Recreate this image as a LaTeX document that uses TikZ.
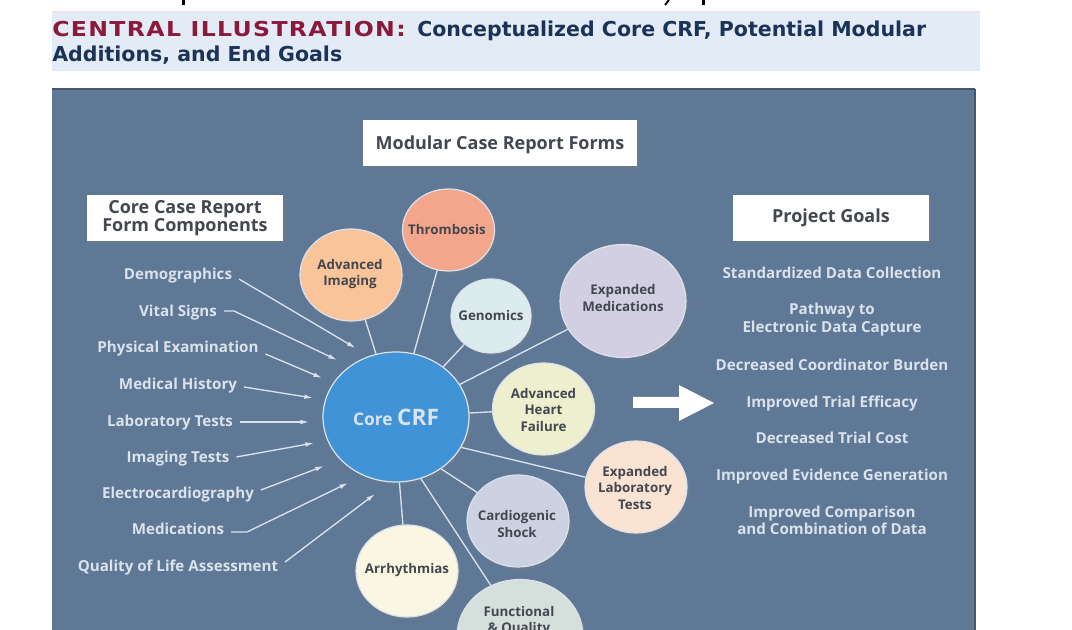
\documentclass[tikz,border=0pt]{standalone}
\usepackage{fontspec}
\setmainfont{Open Sans}
\newfontfamily\titlefont{DejaVu Sans}
\newfontfamily\titlewide[FakeStretch=1.15,LetterSpace=6.5]{DejaVu Sans}
\usetikzlibrary{arrows.meta,shadows,calc,shapes.geometric}
\definecolor{panel}{HTML}{5F7896}
\definecolor{band}{HTML}{E3EBF6}
\definecolor{bandtop}{HTML}{F8DDE0}
\definecolor{paneltop}{HTML}{46566A}
\definecolor{soft}{HTML}{DAE2EB}
\definecolor{inktext}{HTML}{43474F}
\definecolor{titlered}{HTML}{8B1A3A}
\definecolor{titlenavy}{HTML}{1B3358}
\definecolor{coreblue}{HTML}{3F93D6}
\definecolor{cImg}{HTML}{F9C49A}
\definecolor{cThr}{HTML}{F4A68C}
\definecolor{cGen}{HTML}{DCEBEE}
\definecolor{cMed}{HTML}{D2CFE2}
\definecolor{cAhf}{HTML}{EDEFCF}
\definecolor{cLab}{HTML}{FBE3D3}
\definecolor{cCar}{HTML}{CCD2E2}
\definecolor{cArr}{HTML}{FBF6E2}
\definecolor{cFun}{HTML}{D5E0DC}
\tikzset{
  x=0.75pt,y=-0.75pt,
  softshadow/.style={drop shadow={opacity=.28,shadow xshift=2pt,shadow yshift=-2pt}},
  bubble/.style n args={3}{ellipse,draw=soft,line width=.9pt,fill=#3,inner sep=0pt,
    minimum width=#1*.75pt,minimum height=#2*.75pt,softshadow},
  bubbletext/.style={font=\fontsize{10}{12.2}\selectfont\bfseries,text=inktext,align=center,inner sep=0pt},
  headbox/.style n args={2}{rectangle,fill=white,inner sep=0pt,minimum width=#1*.75pt,minimum height=#2*.75pt,softshadow,
    font=\fontsize{13.5}{14}\selectfont\bfseries,text=inktext,align=center},
  itemtext/.style={font=\fontsize{11.35}{14}\selectfont\bfseries,text=soft,align=center,inner xsep=5pt,inner ysep=0pt},
  spoke/.style={draw=soft,line width=1pt},
  feed/.style={draw=soft,line width=1pt,-{Latex[length=6.5pt,width=3.5pt]}},
  titletext/.style={anchor=base west,inner sep=0pt,font=\titlefont\fontsize{15.4}{16}\selectfont\bfseries},
}
\begin{document}
\begin{tikzpicture}
\useasboundingbox (0,0) rectangle (1072,630);
\clip (0,0) rectangle (1072,630);
% title band
\fill[band] (52,11) rectangle (980,71);
\fill[bandtop] (52,11) rectangle (980,12.5);
\node[titletext,text=titlered] (ttlA) at (52,36.5) {\titlewide CENTRAL ILLUSTRATION:};
\node[titletext,text=titlenavy] (ttlB) at (417,36.5) {Conceptualized Core CRF, Potential Modular};
\node[titletext,text=titlenavy] (ttlC) at (52,61.5) {Additions, and End Goals};
% cut-off marks of the text above
\fill[black] (182,0) rectangle (184.5,5);
\fill[black] (702,0) rectangle (704.5,5);
\draw[black,line width=1.4pt] (669,0) -- (665,5);
% panel
\fill[panel] (52,89) rectangle (975,630);
\fill[paneltop] (52,88) rectangle (975,90);
\fill[paneltop] (974,89) rectangle (975.5,630);
% headers
\node[headbox={274}{46},text height=12.7pt,text depth=2.9pt] (hMod) at (500,143) {Modular Case Report Forms};
\node[headbox={196}{46}] (hCore) at (185,218) {Core Case Report\\[-.8pt]Form Components};
\node[headbox={196}{46}] (hGoal) at (831,218) {Project Goals};
% bubbles
\node[bubble={146}{130}{coreblue}] (core) at (396,417) {};
\node[bubble={102}{92}{cImg}] (bImg) at (351,275) {};
\node[bubble={92}{82}{cThr}] (bThr) at (448.5,230) {};
\node[bubble={80}{74}{cGen}] (bGen) at (491,316) {};
\node[bubble={126}{113}{cMed}] (bMed) at (623,301) {};
\node[bubble={102}{92}{cAhf}] (bAhf) at (543.5,409) {};
\node[bubble={102}{92}{cLab}] (bLab) at (636,487) {};
\node[bubble={102}{92}{cCar}] (bCar) at (518,521) {};
\node[bubble={102}{92}{cArr}] (bArr) at (407,571) {};
\node[bubble={126}{113}{cFun}] (bFun) at (520,636) {};
% spokes
\draw[spoke] (core) -- (bImg);
\draw[spoke] (core) -- (bThr);
\draw[spoke] (core) -- (bGen);
\draw[spoke] (core) -- (bMed);
\draw[spoke] (core) -- (bAhf);
\draw[spoke] (core.-25) -- (bLab.169);
\draw[spoke] (core.-49) -- (bCar.145);
\draw[spoke] (core.-87) -- (bArr.95);
\draw[spoke] (core.-68) -- (bFun.120);
% bubble texts
\node[font=\fontsize{13}{15}\selectfont\bfseries,text=soft,inner sep=0pt] (tCore) at (396,417) {Core {\fontsize{17}{15}\selectfont CRF}};
\node[bubbletext] (tImg) at (350,274) {Advanced\\Imaging};
\node[bubbletext] (tThr) at (447,230) {Thrombosis};
\node[bubbletext] (tGen) at (491,316) {Genomics};
\node[bubbletext] (tMed) at (623,298) {Expanded\\Medications};
\node[bubbletext] (tAhf) at (543.5,410) {Advanced\\Heart\\Failure};
\node[bubbletext] (tLab) at (635,488) {Expanded\\Laboratory\\Tests};
\node[bubbletext] (tCar) at (517,524) {Cardiogenic\\Shock};
\node[bubbletext] (tArr) at (407,570) {Arrhythmias};
\node[bubbletext,anchor=north] (tFun) at (519,606) {Functional\\\&~Quality};
% left items
\node[itemtext] (lDem) at (178,276) {Demographics};
\node[itemtext] (lVit) at (178,313) {Vital Signs};
\node[itemtext] (lPhy) at (178,349) {Physical Examination};
\node[itemtext] (lHis) at (178,386) {Medical History};
\node[itemtext] (lTst) at (170,423) {Laboratory Tests};
\node[itemtext] (lImg) at (178,459) {Imaging Tests};
\node[itemtext] (lEcg) at (178,495) {Electrocardiography};
\node[itemtext] (lMed) at (178,529) {Medications};
\node[itemtext] (lQol) at (178,568) {Quality of Life Assessment};
% arrow targets
\coordinate (eDem) at (355.5,348);
\coordinate (eVit) at (337,360);
\coordinate (ePhy) at (322,378);
\coordinate (eHis) at (313,398);
\coordinate (eTst) at (309,422);
\coordinate (eImg) at (314,443);
\coordinate (eEcg) at (324,466);
\coordinate (eMed) at (348,483);
\coordinate (eQol) at (375,494);
\coordinate (bVit) at (234,311);
\coordinate (bMd) at (247,532);
\draw[feed] ([shift={(0,3)}]lDem.east) -- (eDem);
\draw[feed] ([shift={(0,-2)}]lVit.east) -- (bVit) -- (eVit);
\draw[feed] ([shift={(0,5)}]lPhy.east) -- (ePhy);
\draw[feed] ([shift={(0,1)}]lHis.east) -- (eHis);
\draw[feed] (lTst.east |- eTst) -- (eTst);
\draw[feed] ([shift={(0,-2)}]lImg.east) -- (eImg);
\draw[feed] ([shift={(0,-5)}]lEcg.east) -- (eEcg);
\draw[feed] ([shift={(0,3)}]lMed.east) -- (bMd) -- (eMed);
\draw[feed] ([shift={(0,-6)}]lQol.east) -- (eQol);
% right items
\node[itemtext] (gStd) at (832,273) {Standardized Data Collection};
\node[itemtext] (gPat) at (832,319.5) {Pathway to\\[-.8pt]Electronic Data Capture};
\node[itemtext] (gCor) at (832,365) {Decreased Coordinator Burden};
\node[itemtext] (gEff) at (832,404) {Improved Trial Efficacy};
\node[itemtext] (gCst) at (832,438) {Decreased Trial Cost};
\node[itemtext] (gEvi) at (832,477) {Improved Evidence Generation};
\node[itemtext] (gCmp) at (832,520.5) {Improved Comparison\\[-.8pt]and Combination of Data};
% big arrow
\fill[white] (633,397) -- (679,397) -- (679,385) -- (714,403) -- (679,421) -- (679,408) -- (633,408) -- cycle;
\end{tikzpicture}
\end{document}
